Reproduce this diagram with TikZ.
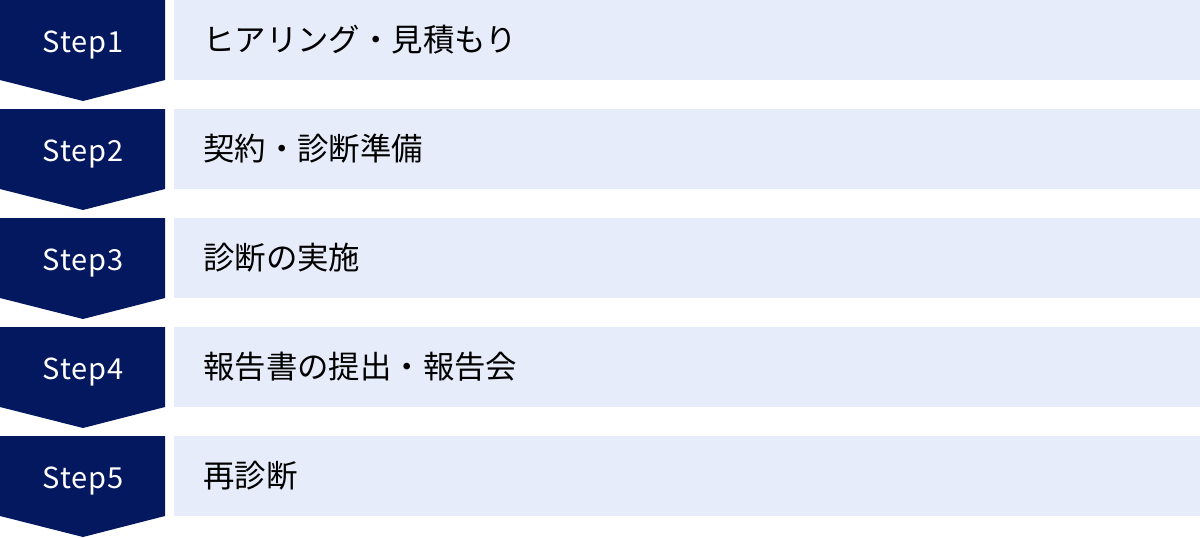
\documentclass[tikz,border=0pt]{standalone}
\usepackage{fontspec}
\setmainfont{Noto Sans CJK JP}
\newfontfamily\stepfont[LetterSpace=3]{Noto Sans CJK JP}
\usepackage{tikz}
\definecolor{stepnavy}{HTML}{03185F}
\definecolor{steplight}{HTML}{E6ECF9}
\tikzset{
  steplabel/.style={anchor=base, text=white, font=\stepfont\fontsize{29}{34}\selectfont, inner sep=0pt},
  stepitem/.style={anchor=west, text=black, font=\fontsize{31.4}{36}\selectfont, inner sep=0pt}
}
\begin{document}
\begin{tikzpicture}[x=1pt, y=-1pt]
\useasboundingbox (0,0) rectangle (1200,538);
\foreach \i/\txt in {1/ヒアリング・見積もり, 2/契約・診断準備, 3/診断の実施, 4/報告書の提出・報告会, 5/再診断}
{
  \pgfmathsetmacro{\top}{(\i-1)*109}
  \fill[stepnavy] (0,\top) -- (165,\top) -- (165,\top+80) -- (83,\top+101) -- (0,\top+80) -- cycle;
  \fill[steplight] (174,\top) rectangle (1200,\top+80);
  \node[steplabel] (step\i) at (83,\top+52) {Step\i};
  \node[stepitem] (item\i) at (203,\top+40) {\txt};
}
\end{tikzpicture}
\end{document}
